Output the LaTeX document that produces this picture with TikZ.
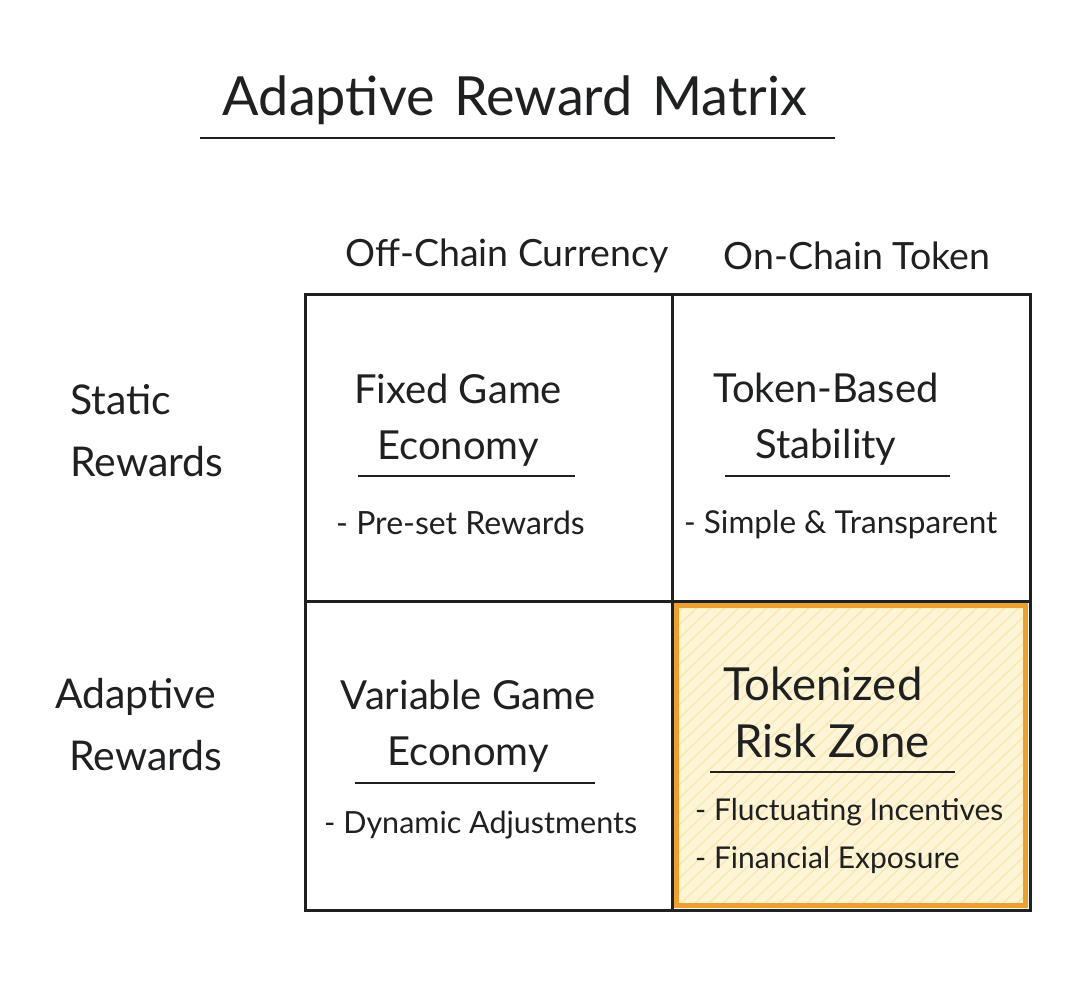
\documentclass[tikz,border=0pt]{standalone}
\usepackage{fontspec}
\setmainfont{Lato}
\definecolor{ink}{HTML}{1E2022}
\definecolor{hlfill}{HTML}{FEF5D6}
\definecolor{hlhatch}{HTML}{FAE5AC}
\definecolor{hlborder}{HTML}{F0A028}
\begin{document}
\begin{tikzpicture}[x=1pt,y=-1pt,
  txt/.style={text=ink,inner sep=0pt,font=\fontsize{#1}{#1}\selectfont},
  title/.style={txt=54},
  header/.style={txt=37.5},
  rowlab/.style={txt=41,align=left,anchor=west,font=\fontsize{41}{62}\selectfont},
  celltitle/.style={txt=40,align=center,font=\fontsize{40}{56}\selectfont},
  bigtitle/.style={txt=45.5,align=center,font=\fontsize{45.5}{57}\selectfont},
  bullet/.style={txt=#1,anchor=west},
  rule/.style={draw=ink,line width=1.6pt},
  gridline/.style={draw=ink,line width=3pt}]
\useasboundingbox (0,0) rectangle (1080,996);
\fill[white] (0,0) rectangle (1080,996);

% title
\node[title] (title) at (515,100) {Adaptive\hspace{6pt} Reward\hspace{6pt} Matrix};
\draw[rule,line width=2pt] (200,138) -- (835,138);

% column headers
\node[header] (hoff) at (507,256) {Off-Chain Currency};
\node[header] (hon) at (857,256) {On-Chain Token};

% row labels
\node[rowlab] (rstatic) at (70,431) {Static\\Rewards};
\node[rowlab] (radapt) at (55,725) {Adaptive\\\hspace*{14pt}Rewards};

% highlighted cell
\coordinate (hlA) at (674,603);
\coordinate (hlB) at (1028,908);
\fill[hlfill] (hlA) rectangle (hlB);
\begin{scope}
\clip (hlA) rectangle (hlB);
\foreach \i in {0,14,...,700} {
  \draw[hlhatch,line width=1.2pt] (674+\i-320,908) -- (674+\i,603);
}
\end{scope}
\draw[hlborder,line width=5pt] (676.5,605.5) rectangle (1025.5,905.5);

% grid
\draw[gridline] (305,294) rectangle (1030,910);
\draw[gridline] (672,294) -- (672,910);
\draw[gridline] (305,601) -- (1030,601);

% top-left cell
\node[celltitle] (t1) at (458,420) {Fixed Game\\Economy};
\draw[rule] (358,476) -- (575,476);
\node[bullet=32] (b1) at (336,523) {- Pre-set Rewards};

% top-right cell
\node[celltitle] (t2) at (826,419) {Token-Based\\Stability};
\draw[rule] (725,476) -- (950,476);
\node[bullet=31.5] (b2) at (684,525) {- Simple \& Transparent};

% bottom-left cell
\node[celltitle] (t3) at (468,726) {Variable Game\\Economy};
\draw[rule] (355,783) -- (595,783);
\node[bullet=30.5] (b3) at (324,825) {- Dynamic Adjustments};

% bottom-right cell
\node[bigtitle] (t4) at (823,712) {Tokenized\\\hspace*{18pt}Risk Zone};
\draw[rule] (710,772) -- (955,772);
\node[bullet=30] (b4) at (695,812) {- Fluctuating Incentives};
\node[bullet=30] (b5) at (695,860) {- Financial Exposure};
\end{tikzpicture}
\end{document}
